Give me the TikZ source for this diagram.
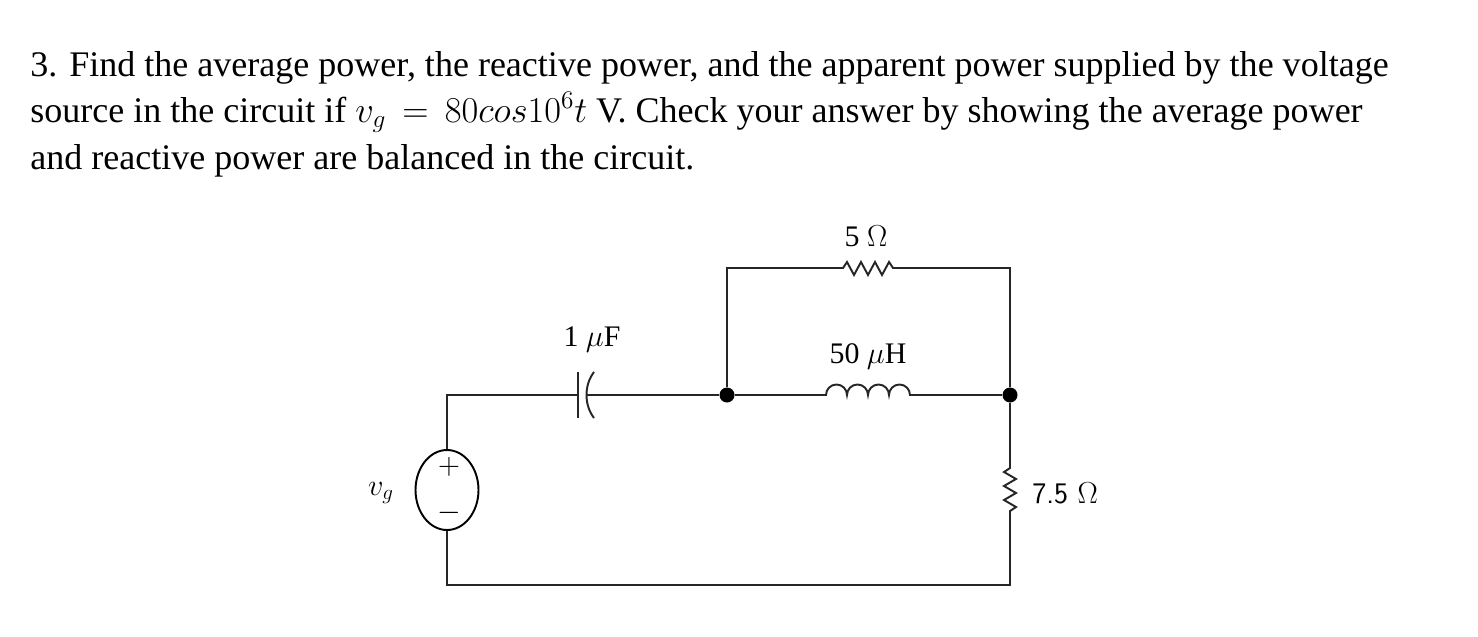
\documentclass[tikz,border=0pt]{standalone}
\usepackage{fontspec}
\setmainfont{Liberation Serif}
\usetikzlibrary{shapes.geometric}
\begin{document}
\begin{tikzpicture}[x=0.02cm,y=-0.02cm,
  wire/.style={line width=1.1pt, black!85},
  txt/.style={anchor=base west, inner sep=0, font=\fontsize{20.5}{24}\selectfont},
  lbl/.style={inner sep=0, font=\fontsize{17}{20}\selectfont},
  dot/.style={circle, fill=black, inner sep=0, minimum size=0.3cm}]
\useasboundingbox (0,0) rectangle (1478,636);
\node[txt] (l1) at (30,76) {3. Find the average power, the reactive power, and the apparent power supplied by the voltage};
\node[txt] (l2) at (30,122) {source in the circuit if $v_g\,=\,80cos10^6t$ V. Check your answer by showing the average power};
\node[txt] (l3) at (30,169) {and reactive power are balanced in the circuit.};
\coordinate (bl) at (447,585);
\coordinate (tl) at (447,395);
\coordinate (br) at (1010,585);
\node[dot] (n1) at (727,395) {};
\node[dot] (n2) at (1010,395) {};
\coordinate (t1) at (727,268);
\coordinate (t2) at (1010,268);
\node[ellipse, draw, line width=1.1pt, minimum width=1.26cm, minimum height=1.6cm, inner sep=0] (src) at (447,490) {};
\node[lbl] at (449,467) {$+$};
\node[lbl] at (449,513) {$-$};
\node[lbl] (vg) at (381,493) {$v_g$};
\draw[wire] (src.north) -- (tl) -- (578,395);
\draw[wire] (578,372) -- (578,418);
\draw[wire] (594,372) .. controls (584,385) and (584,405) .. (594,418);
\draw[wire] (586,395) -- (n1);
\node[lbl] (cl) at (592,340) {1 $\mu$F};
\draw[wire] (n1) -- (826,395)
  arc(180:360:10.5) arc(180:360:10.5) arc(180:360:10.5) arc(180:360:10.5)
  -- (n2);
\node[lbl] (ll) at (868,357) {50 $\mu$H};
\draw[wire] (n1) -- (t1) -- (843,268) -- (847,262) -- (854,275) -- (861,262) -- (868,275) -- (875,262) -- (882,275) -- (889,262) -- (893,268) -- (t2) -- (n2);
\node[lbl] (rl) at (866,236) {5 $\Omega$};
\draw[wire] (n2) -- (1010,468) -- (1004,472) -- (1016,479) -- (1004,486) -- (1016,493) -- (1004,500) -- (1016,507) -- (1010,511) -- (br) -- (bl) -- (src.south);
\node[lbl, anchor=west] (rr) at (1032,493) {\fontfamily{lmss}\selectfont 7.5 $\Omega$};
\end{tikzpicture}
\end{document}
